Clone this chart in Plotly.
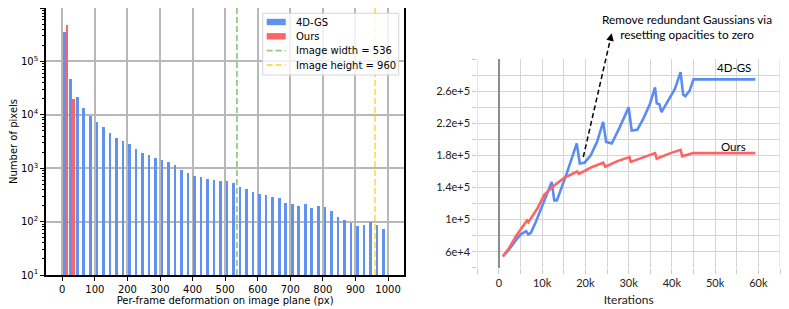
import plotly.graph_objects as go

# ---------------- data: left histogram ----------------
bin_left = list(range(0, 1000, 20))
blue_counts = [3.5e5, 4.75e4, 2.2e4, 1.36e4, 9.4e3, 7.3e3, 5.9e3, 4.6e3, 3.75e3, 3.24e3,
               2.9e3, 2.26e3, 1.96e3, 1.8e3, 1.58e3, 1.41e3, 1.28e3, 1.14e3, 918, 817,
               718, 679, 631, 589, 580, 572, 525, 450, 400, 351,
               322, 313, 283, 279, 219, 212, 200, 215, 181, 193,
               187, 157, 123, 107, 94, 83, 88, 97, 87, 72]
red_counts = [4.9e5, 1.95e4] + [None] * 48
image_width = 536
image_height = 960

# ---------------- data: right curves ----------------
gs4d_iter = [900, 2400, 4000, 5100, 6300, 6800, 7400, 8600, 12200, 12800, 13400, 15700,
             18000, 18700, 19800, 21200, 22700, 24100, 24800, 26100, 28000, 30000, 30700,
             32000, 33400, 34900, 36100, 36500, 37100, 37600, 39200, 40700, 42000, 42600,
             43100, 44100, 45000, 59300]
gs4d_vals = [5.4e4, 6.3e4, 7.5e4, 8.2e4, 8.55e4, 8.15e4, 8.35e4, 9.8e4, 1.47e5, 1.24e5,
             1.24e5, 1.58e5, 1.95e5, 1.70e5, 1.71e5, 1.80e5, 1.97e5, 2.22e5, 1.97e5, 1.95e5,
             2.16e5, 2.40e5, 2.11e5, 2.12e5, 2.26e5, 2.44e5, 2.65e5, 2.45e5, 2.44e5, 2.34e5,
             2.49e5, 2.63e5, 2.84e5, 2.56e5, 2.54e5, 2.61e5, 2.75e5, 2.75e5]
ours_iter = [900, 2400, 4000, 6500, 6800, 8900, 10500, 12400, 15100, 18100, 18500, 21300,
             24100, 24600, 27400, 30200, 30500, 33300, 36100, 36500, 39200, 42000, 42400,
             44900, 59300]
ours_vals = [5.4e4, 6.5e4, 8.0e4, 9.9e4, 9.67e4, 1.14e5, 1.31e5, 1.41e5, 1.52e5, 1.60e5,
             1.57e5, 1.65e5, 1.71e5, 1.66e5, 1.73e5, 1.78e5, 1.72e5, 1.78e5, 1.83e5, 1.76e5,
             1.82e5, 1.87e5, 1.79e5, 1.83e5, 1.83e5]

x_ticks_left = list(range(0, 1001, 100))
y_ticks_left = [10, 100, 1000, 1e4, 1e5, 1e6]
y_ticktext_left = ["10<sup>1</sup>", "10<sup>2</sup>", "10<sup>3</sup>", "10<sup>4</sup>",
                   "10<sup>5</sup>", "10<sup>6</sup>"]
x_ticks_right = [0, 10000, 20000, 30000, 40000, 50000, 60000]
x_ticktext_right = ["0", "10k", "20k", "30k", "40k", "50k", "60k"]
y_ticks_right = [6e4, 1e5, 1.4e5, 1.8e5, 2.2e5, 2.6e5]
y_ticktext_right = ["6e+4", "1e+5", "1.4e+5", "1.8e+5", "2.2e+5", "2.6e+5"]

BLUE = "rgb(98,146,240)"
RED = "rgb(255,100,100)"
GREEN = "rgba(120,190,100,0.8)"
GOLD = "rgba(255,210,60,0.8)"
W, H = 789, 309
OFF = 8  # page body margin


def PX(x):
    return min(1.0, max(0.0, (x - OFF) / W))


def PY(y):
    return min(1.0, max(0.0, (H - (y - OFF)) / H))


fig = go.Figure()

bar_w = 8
fig.add_trace(go.Bar(x=[b + 6 for b in bin_left], y=blue_counts, width=bar_w,
                     marker=dict(color=BLUE, line=dict(width=0)), name="4D-GS",
                     xaxis="x", yaxis="y"))
fig.add_trace(go.Bar(x=[b + 14 for b in bin_left], y=red_counts, width=bar_w,
                     marker=dict(color=RED, line=dict(width=0)), name="Ours",
                     xaxis="x", yaxis="y"))
fig.add_trace(go.Scatter(x=[image_width, image_width], y=[10, 1e6], mode="lines",
                         line=dict(color=GREEN, width=1.8, dash="6px,3px"),
                         name="Image width = 536", xaxis="x", yaxis="y"))
fig.add_trace(go.Scatter(x=[image_height, image_height], y=[10, 1e6], mode="lines",
                         line=dict(color=GOLD, width=1.8, dash="6px,3px"),
                         name="Image height = 960", xaxis="x", yaxis="y"))

fig.add_trace(go.Scatter(x=gs4d_iter, y=gs4d_vals, mode="lines",
                         line=dict(color="rgb(90,140,245)", width=2.6),
                         name="4D-GS curve", xaxis="x2", yaxis="y2"))
fig.add_trace(go.Scatter(x=ours_iter, y=ours_vals, mode="lines",
                         line=dict(color="rgb(255,100,100)", width=2.6),
                         name="Ours curve", xaxis="x2", yaxis="y2"))

minor_log = [m * 10 ** e for e in range(1, 6) for m in range(2, 10)]

left_font = dict(family="DejaVu Sans", size=10, color="black")
right_font = dict(family="Lato", size=11, color="#222")

fig.update_layout(
    width=W, height=H, margin=dict(l=0, r=0, t=0, b=0, autoexpand=False),
    paper_bgcolor="white", plot_bgcolor="white",
    barmode="overlay", bargap=0,
    showlegend=False,
    xaxis=dict(domain=[PX(46), PX(404.3)], range=[-50, 1050], tickvals=x_ticks_left,
               anchor="y", automargin=False,
               showgrid=True, gridcolor="#b8b8b8", gridwidth=1.6, zeroline=False,
               showline=True, linecolor="black", linewidth=1.6, mirror=True,
               ticks="outside", ticklen=4, tickcolor="black", tickfont=left_font,
               title=dict(text="Per-frame deformation on image plane (px)", font=left_font,
                          standoff=3)),
    yaxis=dict(domain=[PY(275), PY(8)], type="log", range=[1, 6],
               anchor="x", automargin=False,
               tickvals=y_ticks_left, ticktext=y_ticktext_left,
               showgrid=True, gridcolor="#b8b8b8", gridwidth=1.6, zeroline=False,
               showline=True, linecolor="black", linewidth=1.6, mirror=True,
               ticks="outside", ticklen=4, tickcolor="black", tickfont=left_font,
               minor=dict(tickvals=minor_log, ticks="outside", ticklen=2, tickcolor="black",
                          showgrid=False),
               title=dict(text="Number of pixels", font=left_font, standoff=5)),
    xaxis2=dict(domain=[PX(477.3), PX(780)], range=[-5000, 65000],
                anchor="y2", automargin=False,
                tickvals=x_ticks_right, ticktext=x_ticktext_right,
                showgrid=True, gridcolor="#d4d4d4", gridwidth=1,
                zeroline=True, zerolinecolor="#8c8c8c", zerolinewidth=1.5,
                showline=False, ticks="outside", ticklen=5, tickcolor="#c8c8c8",
                tickfont=right_font,
                minor=dict(dtick=5000, tick0=0, ticks="outside", ticklen=5, tickcolor="#c8c8c8",
                           showgrid=True, gridcolor="#d4d4d4", gridwidth=1),
                title=dict(text="Iterations", font=dict(family="Lato", size=12, color="#222"),
                           standoff=7)),
    yaxis2=dict(domain=[PY(267.7), PY(59.3)], range=[4e4, 3e5],
                anchor="x2", automargin=False,
                tickvals=y_ticks_right, ticktext=y_ticktext_right,
                showgrid=True, gridcolor="#d4d4d4", gridwidth=1, zeroline=False,
                showline=False, ticks="outside", ticklen=4, tickcolor="#c8c8c8",
                tickfont=right_font,
                minor=dict(dtick=2e4, tick0=0, ticks="outside", ticklen=4, tickcolor="#c8c8c8",
                           showgrid=True, gridcolor="#d4d4d4", gridwidth=1)),
)

# right-chart edge lines (grid boundaries)
for xv in [-5000, 65000]:
    fig.add_shape(type="line", xref="x2", yref="y2 domain", x0=xv, x1=xv, y0=0, y1=1,
                  line=dict(color="#d4d4d4", width=1), layer="below")

# ---------------- custom legend (matplotlib style) ----------------
fig.add_shape(type="rect", xref="paper", yref="paper",
              x0=PX(262.7), x1=PX(398.7), y0=PY(75), y1=PY(13.3),
              fillcolor="rgba(255,255,255,0.8)", line=dict(color="#d6d6d6", width=1),
              layer="above")
legend_rows = [("4D-GS", "patch", BLUE, 22.0), ("Ours", "patch", RED, 36.3),
               ("Image width = 536", "line", GREEN, 50.7),
               ("Image height = 960", "line", GOLD, 65.0)]
for label, kind, col, yc in legend_rows:
    if kind == "patch":
        fig.add_shape(type="rect", xref="paper", yref="paper",
                      x0=PX(266.7), x1=PX(285.7), y0=PY(yc + 3.2), y1=PY(yc - 3.2),
                      fillcolor=col, line=dict(width=0), layer="above")
    else:
        fig.add_shape(type="line", xref="paper", yref="paper",
                      x0=PX(266.7), x1=PX(285.7), y0=PY(yc), y1=PY(yc),
                      line=dict(color=col, width=1.8, dash="6px,3px"), layer="above")
    fig.add_annotation(x=PX(293.5), y=PY(yc), xref="paper", yref="paper", text=label,
                       showarrow=False, xanchor="left", yanchor="middle",
                       font=dict(family="DejaVu Sans", size=10, color="black"))

# curve labels
fig.add_annotation(x=54300, y=2.895e5, xref="x2", yref="y2", text="4D-GS", showarrow=False,
                   xanchor="center", yanchor="middle",
                   font=dict(family="Lato", size=11.5, color="black"))
fig.add_annotation(x=54300, y=1.916e5, xref="x2", yref="y2", text="Ours", showarrow=False,
                   xanchor="center", yanchor="middle",
                   font=dict(family="Lato", size=11.5, color="black"))

# annotation text with dashed arrow
fig.add_annotation(x=PX(687), y=PY(27.3), xref="paper", yref="paper",
                   text="Remove redundant Gaussians via<br>resetting opacities to zero",
                   showarrow=False, align="center", xanchor="center", yanchor="middle",
                   font=dict(family="Lato", size=11.8, color="black"))
tail = (583.3, 157.0)
head = (611.7, 33.3)
fig.add_shape(type="line", xref="paper", yref="paper",
              x0=PX(tail[0]), y0=PY(tail[1]), x1=PX(610.6), y1=PY(38.2),
              line=dict(color="black", width=1.5, dash="5px,3px"))
fig.add_annotation(x=PX(head[0]), y=PY(head[1]), xref="paper", yref="paper",
                   text="", showarrow=True, ax=-1.8, ay=7.8, arrowhead=2, arrowsize=1,
                   arrowwidth=1.5, arrowcolor="black")

fig.write_html("out.html")
